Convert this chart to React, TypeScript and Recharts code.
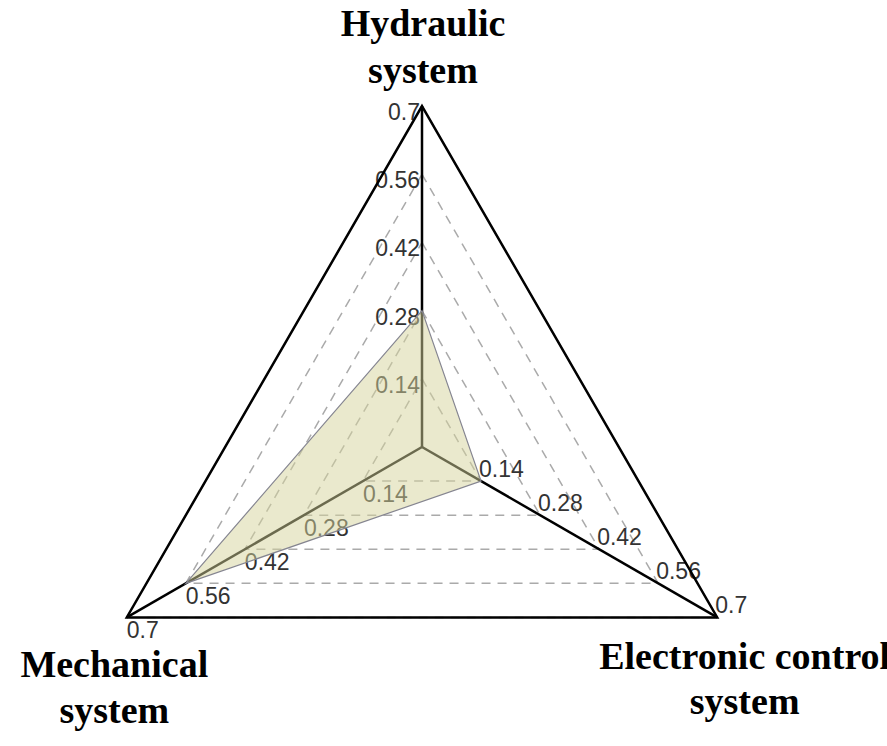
import React from 'react';
import { RadarChart, Radar, PolarGrid, PolarAngleAxis, PolarRadiusAxis } from 'recharts';

const categories = ['Hydraulic system', 'Electronic control system', 'Mechanical system'];
const categoryLines = [
  ['Hydraulic', 'system'],
  ['Electronic control', 'system'],
  ['Mechanical', 'system'],
];
const values = [0.28, 0.14, 0.56];
const axisMax = [0.7, 0.7, 0.7];
const radiusTicks = [0, 0.14, 0.28, 0.42, 0.56, 0.7];
const radiusDomain = [0, 1];

const data = categories.map((c, i) => ({ name: c, value: values[i], max: axisMax[i] }));

// label offsets (style only)
const angleLabelStyle = [
  { dx: 1, dy1: 84, dy2: 131 },
  { dx: -106, dy1: -26, dy2: 19 },
  { dx: 121, dy1: -18, dy2: 28 },
];

const AngleTick = (props: any) => {
  const { x, y, payload, index } = props;
  const idx = typeof index === 'number' ? index : categories.indexOf(payload.value);
  const lines = categoryLines[idx] || [String(payload.value)];
  const st = angleLabelStyle[idx] || { dx: 0, dy1: 0, dy2: 40 };
  const font = "'Liberation Serif', 'Times New Roman', serif";
  return (
    <g>
      <text x={x + st.dx} y={y + st.dy1} textAnchor="middle" fontFamily={font} fontWeight="bold" fontSize={38} fill="#000">
        {lines[0]}
      </text>
      {lines[1] && (
        <text x={x + st.dx} y={y + st.dy2} textAnchor="middle" fontFamily={font} fontWeight="bold" fontSize={38} fill="#000">
          {lines[1]}
        </text>
      )}
    </g>
  );
};

const makeRadiusTick = (anchor: 'start' | 'end', dx: number, dy: number) => (props: any) => {
  const { x, y, payload } = props;
  if (payload.value === 0) return <g />;
  return (
    <text
      x={x + dx}
      y={y + dy}
      textAnchor={anchor}
      dominantBaseline="central"
      fontFamily="'Liberation Sans', Arial, sans-serif"
      fontSize={23}
      fill="#333"
    >
      {payload.value}
    </text>
  );
};

const TickTop = makeRadiusTick('end', -2, 6);
const TickRight = makeRadiusTick('start', -2, -12);
const TickLeft = makeRadiusTick('start', 0, 13);

const axisDefs = [
  { id: 0, angle: 90, tick: TickTop },
  { id: 1, angle: -30, tick: TickRight },
  { id: 2, angle: 210, tick: TickLeft },
];

export default function App() {
  return (
    <div style={{ position: 'absolute', left: 0, top: 0, width: 887, height: 746, background: '#fff' }}>
      <RadarChart
        width={887}
        height={746}
        data={data}
        cx={422}
        cy={447}
        outerRadius={487}
        margin={{ top: 0, right: 0, bottom: 0, left: 0 }}
      >
        <PolarGrid
          gridType="polygon"
          radialLines={false}
          stroke="#aaaaaa"
          strokeWidth={1.5}
          strokeDasharray="9 7"
        />
        <PolarAngleAxis dataKey="name" axisLine={false} tickLine={false} tick={AngleTick} />
        {axisDefs.map((a) => (
          <PolarRadiusAxis
            key={a.id}
            radiusAxisId={a.id}
            angle={a.angle}
            type="number"
            domain={radiusDomain}
            allowDataOverflow
            ticks={radiusTicks}
            axisLine={{ stroke: '#000', strokeWidth: 2.5 }}
            tickLine={false}
            tick={a.tick}
          />
        ))}
        <Radar dataKey="value" radiusAxisId={1} fill="none" stroke="none" dot={false} legendType="none" isAnimationActive={false} />
        <Radar dataKey="value" radiusAxisId={2} fill="none" stroke="none" dot={false} legendType="none" isAnimationActive={false} />
        <Radar
          dataKey="value"
          radiusAxisId={0}
          fill="#d6d49c"
          fillOpacity={0.5}
          stroke="#858590"
          strokeWidth={1.2}
          dot={false}
          isAnimationActive={false}
          {...({ zIndex: 900 } as any)}
        />
        <Radar
          dataKey="max"
          radiusAxisId={0}
          fill="none"
          stroke="#000"
          strokeWidth={2.5}
          dot={false}
          legendType="none"
          isAnimationActive={false}
          {...({ zIndex: 950 } as any)}
        />
      </RadarChart>
    </div>
  );
}
